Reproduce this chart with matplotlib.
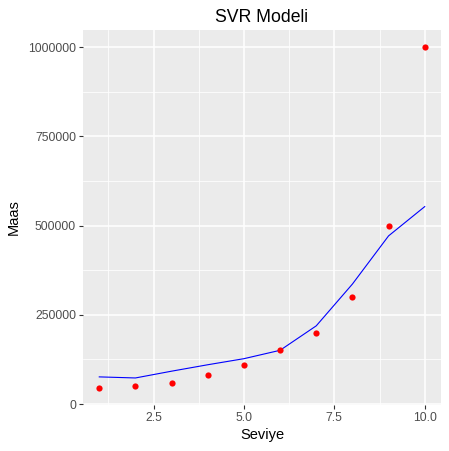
import matplotlib
matplotlib.use("Agg")
import matplotlib.pyplot as plt

# Data
seviye = [1, 2, 3, 4, 5, 6, 7, 8, 9, 10]
maas = [45000, 50000, 60000, 80000, 110000, 150000, 200000, 300000, 500000, 1000000]
svr_tahmin = [76000, 73000, 92000, 110000, 127000, 150500, 219000, 336000, 471000, 553000]

x_ticks = [2.5, 5.0, 7.5, 10.0]
x_tick_labels = ["2.5", "5.0", "7.5", "10.0"]
y_ticks = [0, 250000, 500000, 750000, 1000000]
y_tick_labels = ["0", "250000", "500000", "750000", "1000000"]

plt.rcParams['font.family'] = ['Liberation Sans', 'DejaVu Sans']

W, H = 449, 451
fig = plt.figure(figsize=(W / 100, H / 100), dpi=100)
ax = fig.add_axes([83 / W, 1 - 405 / H, (441 - 83) / W, (405 - 30) / H])

ax.set_facecolor('#EBEBEB')
for s in ax.spines.values():
    s.set_visible(False)

ax.set_xlim(0.55, 10.45)
ax.set_ylim(-2750, 1047750)

ax.set_xticks(x_ticks)
ax.set_xticklabels(x_tick_labels)
ax.set_yticks(y_ticks)
ax.set_yticklabels(y_tick_labels)
ax.set_xticks([1.25, 3.75, 6.25, 8.75], minor=True)
ax.set_yticks([125000, 375000, 625000, 875000], minor=True)

ax.grid(which='major', color='white', linewidth=1.1)
ax.grid(which='minor', color='white', linewidth=0.55)
ax.set_axisbelow(True)

ax.tick_params(which='major', length=3, width=0.8, color='#333333',
               labelsize=8.8, labelcolor='#4D4D4D', pad=2)
ax.tick_params(which='minor', length=0)

ax.scatter(seviye, maas, color='red', s=20, zorder=3, linewidths=0)
ax.plot(seviye, svr_tahmin, color='blue', linewidth=0.8, zorder=2)

ax.set_xlabel('Seviye', fontsize=10.5, color='black', labelpad=3)
ax.set_ylabel('Maas', fontsize=10.5, color='black', labelpad=5)
ax.set_title('SVR Modeli', fontsize=12.7, color='black', pad=6)

fig.savefig('out.png', dpi=100)
